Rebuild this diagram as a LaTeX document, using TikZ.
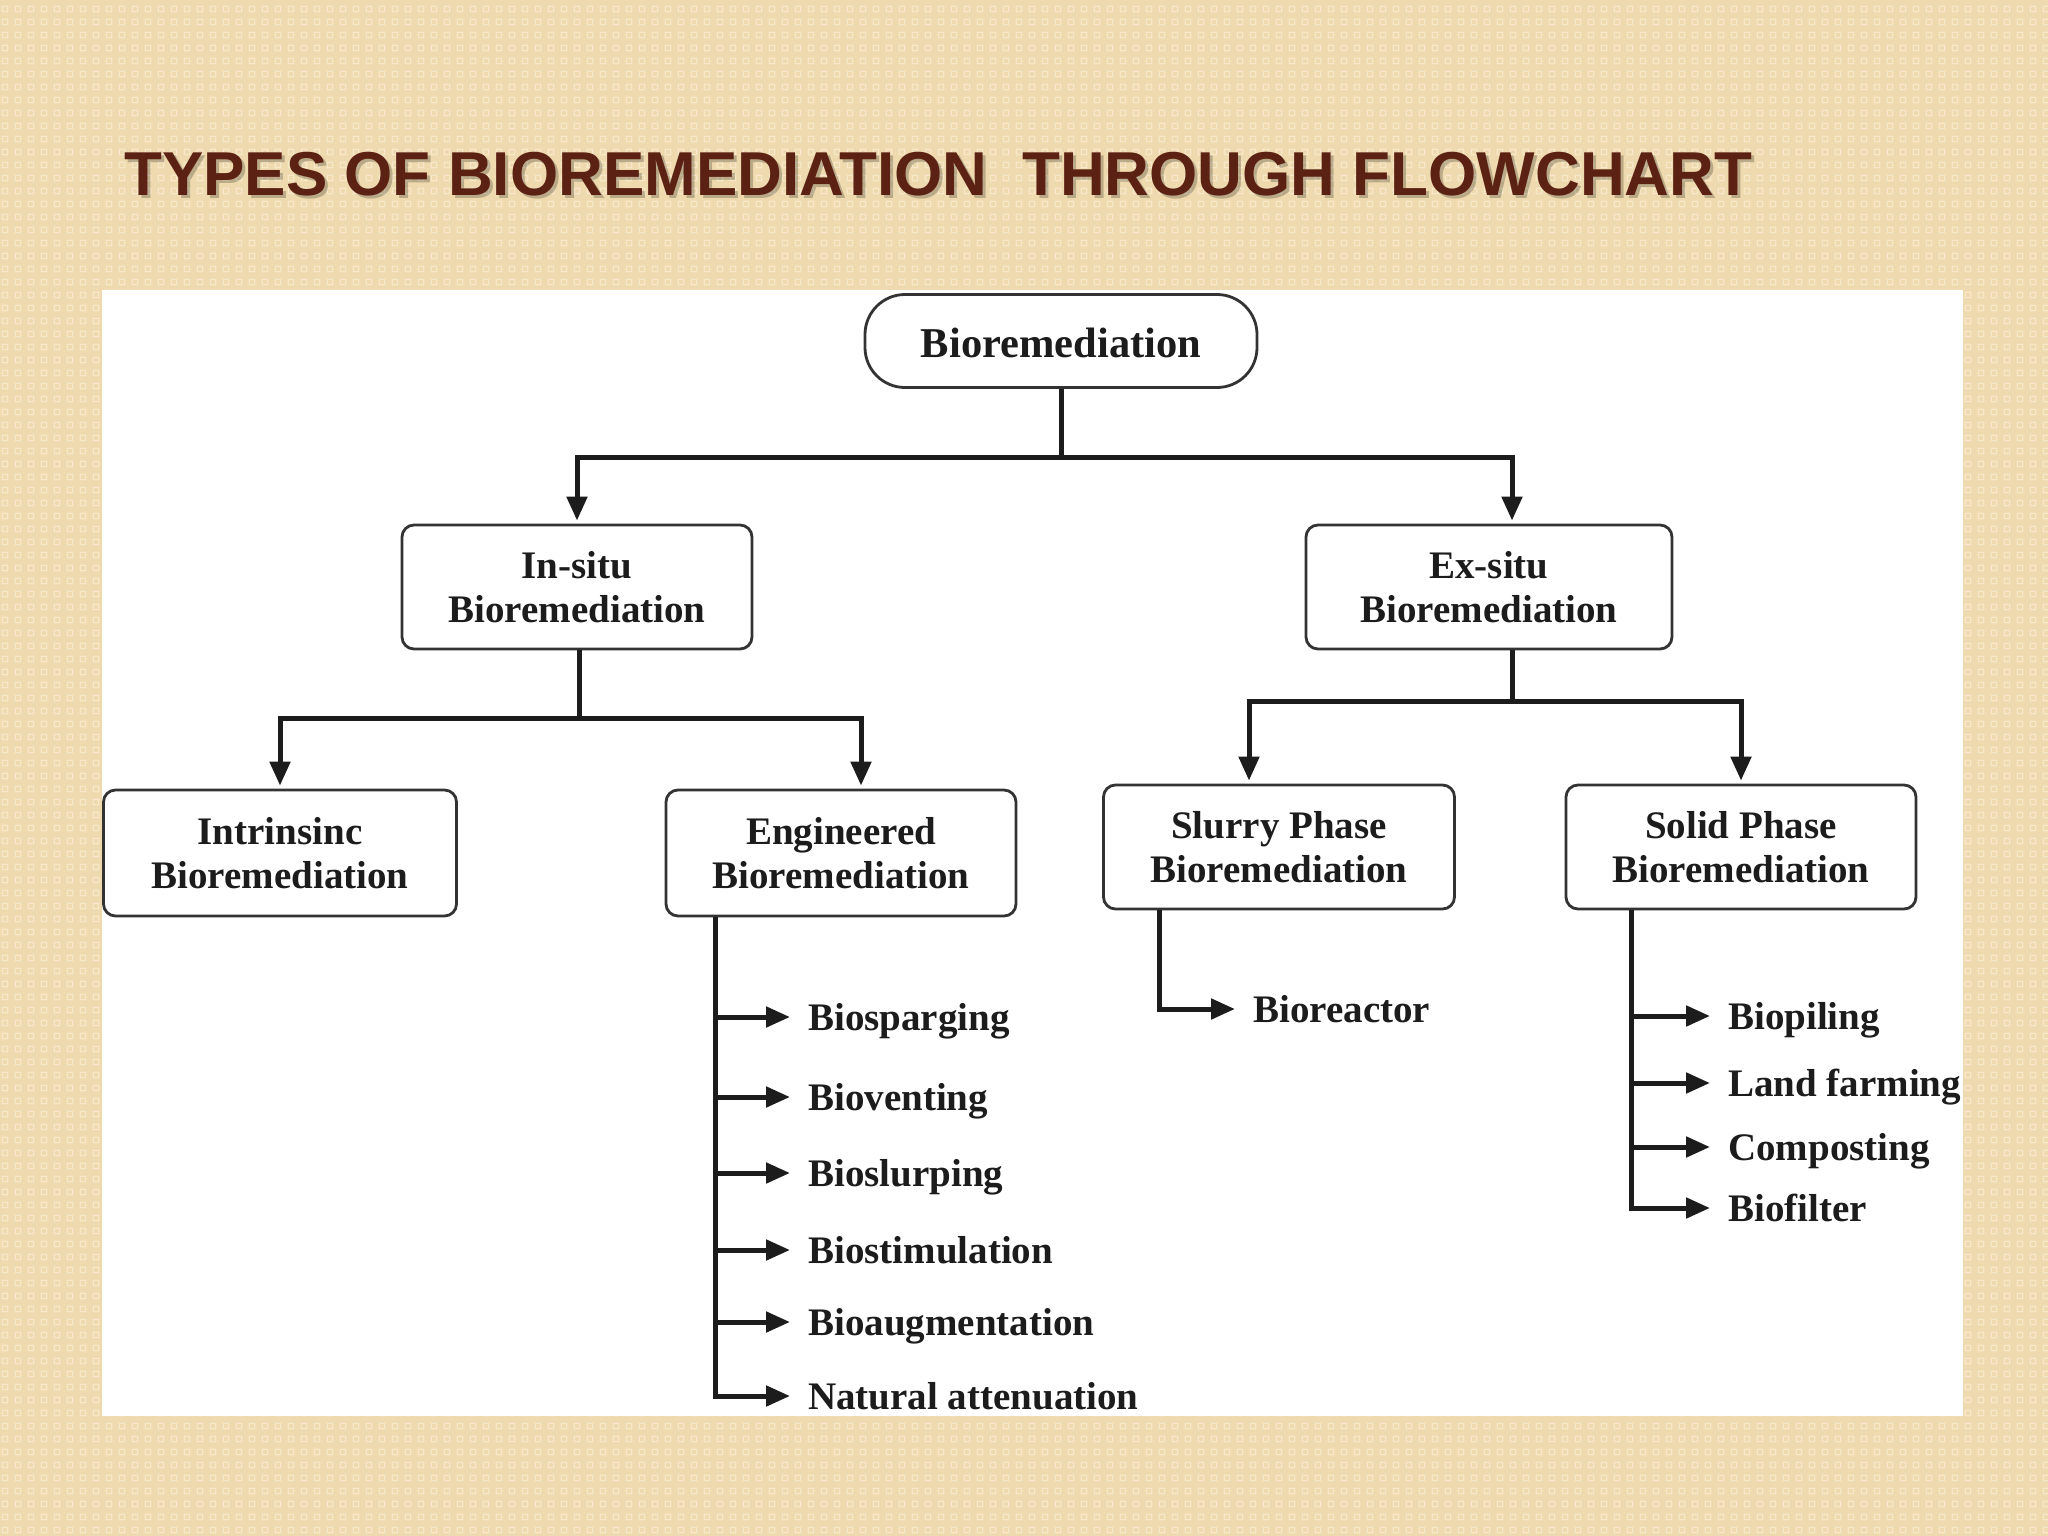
\documentclass[tikz,border=0pt]{standalone}
\usepackage{fontspec}
\setmainfont{Liberation Serif}
\newfontfamily\titlefont{Liberation Sans}
\usetikzlibrary{arrows.meta,patterns.meta}
\definecolor{bgbeige}{HTML}{EFD9AE}
\definecolor{bgsq}{HTML}{F7E8CA}
\definecolor{titlebrown}{HTML}{5B2113}
\definecolor{ink}{HTML}{1C1C1C}
\pgfdeclarepattern{
  name=sqtile,
  parameters={},
  bottom left={\pgfpoint{0pt}{0pt}},
  top right={\pgfpoint{13pt}{13pt}},
  tile size={\pgfpoint{13pt}{13pt}},
  code={
    \pgfsetlinewidth{1.3pt}
    \pgfpathrectangle{\pgfpoint{3.5pt}{3.5pt}}{\pgfpoint{6pt}{6pt}}
    \pgfusepath{stroke}
  }
}
\tikzset{
  box/.style={draw=ink!90, line width=2.8pt, fill=white, rounded corners=12pt,
    align=center, inner sep=0pt, text=ink,
    font=\bfseries\fontsize{39}{44}\selectfont},
  topbox/.style={box, rounded corners=40pt, font=\bfseries\fontsize{42.5}{48}\selectfont},
  conn/.style={draw=ink, line width=5pt},
  arr/.style={conn, -{Triangle[length=24pt,width=20pt]}, shorten >=3pt},
  item/.style={anchor=west, inner xsep=18pt, inner ysep=0pt, text height=26pt,
    text depth=0pt, text=ink, font=\bfseries\fontsize{39}{44}\selectfont},
}
\begin{document}
\begin{tikzpicture}[x=1pt,y=-1pt]
% background
\fill[bgbeige] (0,0) rectangle (2048,1536);
\fill[pattern={sqtile}, pattern color=bgsq] (0,0) rectangle (2048,1536);
\useasboundingbox (0,0) rectangle (2048,1536);
% title
\node[anchor=west, inner sep=0pt, text=black, opacity=0.22,
  font=\titlefont\bfseries\fontsize{62}{70}\selectfont] at (127,177)
  {TYPES OF BIOREMEDIATION\ \ THROUGH FLOWCHART};
\node[anchor=west, inner sep=0pt, text=titlebrown,
  font=\titlefont\bfseries\fontsize{62}{70}\selectfont] (title) at (124,174)
  {TYPES OF BIOREMEDIATION\ \ THROUGH FLOWCHART};
% white panel
\fill[white] (102,290) rectangle (1963,1416);
% boxes
\node[topbox, minimum width=392pt, minimum height=93pt, text depth=0pt] (bio) at (1061,341) {\raisebox{-4pt}{Bioremediation}};
\node[box, minimum width=350pt, minimum height=124pt] (insitu) at (577,587) {\raisebox{-4pt}{In-situ}\\\raisebox{-4pt}{Bioremediation}};
\node[box, minimum width=366pt, minimum height=124pt] (exsitu) at (1489,587) {\raisebox{-4pt}{Ex-situ}\\\raisebox{-4pt}{Bioremediation}};
\node[box, minimum width=353pt, minimum height=126pt] (intr) at (280,853) {\raisebox{-4pt}{Intrinsinc}\\\raisebox{-4pt}{Bioremediation}};
\node[box, minimum width=350pt, minimum height=126pt] (eng) at (841,853) {\raisebox{-4pt}{Engineered}\\\raisebox{-4pt}{Bioremediation}};
\node[box, minimum width=351pt, minimum height=124pt] (slurry) at (1279,847) {\raisebox{-4pt}{Slurry Phase}\\\raisebox{-4pt}{Bioremediation}};
\node[box, minimum width=350pt, minimum height=124pt] (solid) at (1741,847) {\raisebox{-4pt}{Solid Phase}\\\raisebox{-4pt}{Bioremediation}};
% level 1 connectors
\coordinate (j1) at (1061,457);
\draw[conn] (bio.south) -- (j1);
\draw[arr] (j1) -| (insitu.north);
\draw[arr] (j1) -| ([xshift=23pt]exsitu.north);
% level 2 connectors (in-situ)
\coordinate (j2) at (579,718);
\draw[conn] ([xshift=2pt]insitu.south) -- (j2);
\draw[arr] (j2) -| (intr.north);
\draw[arr] (j2) -| ([xshift=20pt]eng.north);
% level 2 connectors (ex-situ)
\coordinate (j3) at (1512,701);
\draw[conn] ([xshift=23pt]exsitu.south) -- (j3);
\draw[arr] (j3) -| ([xshift=-30pt]slurry.north);
\draw[arr] (j3) -| (solid.north);
% engineered items
\node[item] (e1) at (790,1017) {Biosparging};
\node[item] (e2) at (790,1097) {Bioventing};
\node[item] (e3) at (790,1173) {Bioslurping};
\node[item] (e4) at (790,1250) {Biostimulation};
\node[item] (e5) at (790,1322) {Bioaugmentation};
\node[item] (e6) at (790,1396) {Natural attenuation};
\foreach \n in {e1,e2,e3,e4,e5,e6}
  \draw[arr, shorten >=0pt] ([xshift=51pt]eng.south west) |- (\n.west);
% slurry item
\node[item] (s1) at (1235,1009) {Bioreactor};
\draw[arr, shorten >=0pt] ([xshift=57pt]slurry.south west) |- (s1.west);
% solid items
\node[item] (d1) at (1710,1016) {Biopiling};
\node[item] (d2) at (1710,1083) {Land farming};
\node[item] (d3) at (1710,1147) {Composting};
\node[item] (d4) at (1710,1208) {Biofilter};
\foreach \n in {d1,d2,d3,d4}
  \draw[arr, shorten >=0pt] ([xshift=67pt]solid.south west) |- (\n.west);
\end{tikzpicture}
\end{document}
